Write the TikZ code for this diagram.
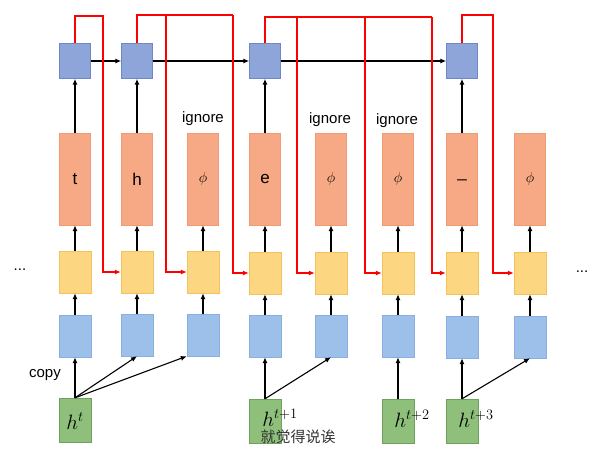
\documentclass[tikz,border=0pt]{standalone}
\usepackage{amsmath}
\usepackage{fontspec}
\setmainfont{Liberation Sans}
\newfontfamily\cjk{Noto Sans CJK SC}
\usepackage{tikz}
\usetikzlibrary{arrows.meta}

\definecolor{topblue}{HTML}{8EA5DA}
\definecolor{topedge}{HTML}{6F87C6}
\definecolor{orng}{HTML}{F6A984}
\definecolor{orngedge}{HTML}{EE9A74}
\definecolor{yell}{HTML}{FDD681}
\definecolor{yelledge}{HTML}{F4C25C}
\definecolor{lblue}{HTML}{9CC0EA}
\definecolor{lblueedge}{HTML}{8AAEDD}
\definecolor{grn}{HTML}{8EC07B}
\definecolor{grnedge}{HTML}{6FA15C}

\begin{document}
\begin{tikzpicture}[
      x = 1pt, y = -1pt,
      box/.style = {rectangle, inner sep = 0pt, font = \fontsize{17}{17}\selectfont},
      topbox/.style = {box, fill = topblue, draw = topedge, minimum width = 31pt, minimum height = 35pt},
      outbox/.style = {box, fill = orng, draw = orngedge, minimum width = 31pt, minimum height = 92pt},
      cell/.style = {box, fill = yell, draw = yelledge, minimum width = 32pt, minimum height = 42pt},
      emb/.style = {box, fill = lblue, draw = lblueedge, minimum width = 32pt, minimum height = 42pt},
      src/.style = {box, fill = grn, draw = grnedge, minimum width = 32pt, minimum height = 44pt},
      hlab/.style = {inner sep = 0pt, font = \fontsize{22}{22}\selectfont},
      arr/.style = {-{Latex[length=6pt,width=5pt]}, line width = 1.1pt, black},
      redline/.style = {-{Latex[length=6pt,width=5pt]}, line width = 1.1pt, red},
      txt/.style = {font = \fontsize{15}{15}\selectfont}
      ]
    \useasboundingbox (0,0) rectangle (600,451);
    % top boxes
    \node[topbox] (b1) at (75,61) {}; % 0
    \node[topbox] (b2) at (137,61) {}; % 1
    \node[topbox] (b4) at (265,61) {}; % 3
    \node[topbox] (b7) at (462,61) {}; % 6
    % output boxes
    \node[outbox] (o1) at (75,179) {t};
    \node[outbox] (o2) at (137,179) {h};
    \node[outbox] (o3) at (203,179) {\Large$\phi$};
    \node[outbox] (o4) at (265,179) {e};
    \node[outbox] (o5) at (331,179) {\Large$\phi$};
    \node[outbox] (o6) at (398,179) {\Large$\phi$};
    \node[outbox] (o7) at (462,179) {\_};
    \node[outbox] (o8) at (530,179) {\Large$\phi$};
    % cells
    \node[cell] (y1) at (75,272) {};
    \node[cell] (y2) at (137,272) {};
    \node[cell] (y3) at (203,272) {};
    \node[cell] (y4) at (265,273) {};
    \node[cell] (y5) at (331,273) {};
    \node[cell] (y6) at (398,273) {};
    \node[cell] (y7) at (462,273) {};
    \node[cell] (y8) at (530,273) {};
    % embeddings
    \node[emb] (e1) at (75,336) {};
    \node[emb] (e2) at (137,335) {};
    \node[emb] (e3) at (203,335) {};
    \node[emb] (e4) at (265,336) {};
    \node[emb] (e5) at (331,336) {};
    \node[emb] (e6) at (398,336) {};
    \node[emb] (e7) at (462,337) {};
    \node[emb] (e8) at (530,337) {};
    % sources
    \node[src] (h1) at (75,420) {};
    \node[src] (h2) at (265,421) {};
    \node[src] (h3) at (398,421) {};
    \node[src] (h4) at (462,421) {};
    \node[hlab] at (75,421) {$h^{t}$};
    \node[hlab] at (280,418) {$h^{t+1}$};
    \node[hlab] at (412,419) {$h^{t+2}$};
    \node[hlab] at (476,419) {$h^{t+3}$};
    % labels
    \node[txt] at (203,119) {ignore};
    \node[txt] at (330,120) {ignore};
    \node[txt] at (397,121) {ignore};
    \node[txt] at (45,375) {copy};
    \node[txt] at (20,270) {...};
    \node[txt] at (582,272) {...};
    \node[font = \cjk\fontsize{15}{15}\selectfont, text = black!80] at (298,437) {就觉得说诶};
    % black arrows
    \draw[arr] (b1)--(b2);
    \draw[arr] (b2)--(b4);
    \draw[arr] (b4)--(b7);
    \draw[arr] (o1)--(b1);
    \draw[arr] (o2)--(b2);
    \draw[arr] (o4)--(b4);
    \draw[arr] (o7)--(b7);
    \draw[arr] (y1)--(o1);
    \draw[arr] (y2)--(o2);
    \draw[arr] (y3)--(o3);
    \draw[arr] (y4)--(o4);
    \draw[arr] (y5)--(o5);
    \draw[arr] (y6)--(o6);
    \draw[arr] (y7)--(o7);
    \draw[arr] (y8)--(o8);
    \draw[arr] (e1)--(y1);
    \draw[arr] (e2)--(y2);
    \draw[arr] (e3)--(y3);
    \draw[arr] (e4)--(y4);
    \draw[arr] (e5)--(y5);
    \draw[arr] (e6)--(y6);
    \draw[arr] (e7)--(y7);
    \draw[arr] (e8)--(y8);
    \draw[arr] (h1.north)--(e1.south);
    \draw[arr] (h1.north)--(e2.south);
    \draw[arr] (h1.north)--(e3.south west);
    \draw[arr] (h2.north)--(e4.south);
    \draw[arr] (h2.north)--(e5.south);
    \draw[arr] (h3.north)--(e6.south);
    \draw[arr] (h4.north)--(e7.south);
    \draw[arr] (h4.north)--(e8.south);
    % red links
    \coordinate (r2) at (103,16);
    \coordinate (r3) at (166,15);
    \coordinate (r4) at (233,15);
    \coordinate (r5) at (297,16);
    \coordinate (r6) at (365,17);
    \coordinate (r7) at (432,17);
    \coordinate (r8) at (493,15);
    \draw[redline] (b1.north) |- (r2) |- (y2.west);
    \draw[redline, -] (b2.north) |- (r4);
    \draw[redline] (r3) |- (y3.west);
    \draw[redline] (r4) |- (y4.west);
    \draw[redline, -] (b4.north) |- (r7);
    \draw[redline] (r5) |- (y5.west);
    \draw[redline] (r6) |- (y6.west);
    \draw[redline] (r7) |- (y7.west);
    \draw[redline] (b7.north) |- (r8) |- (y8.west);
  \end{tikzpicture}
\end{document}
